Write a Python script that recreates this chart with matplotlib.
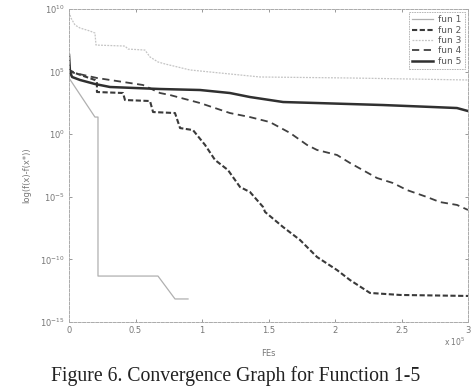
import matplotlib
matplotlib.use("Agg")
import matplotlib.pyplot as plt
import numpy as np

# ---- data (FEs, log10 error) ----
fun1_x = [0, 19500, 21800, 21800, 66900, 79700, 89500]
fun1_y = [4.49, 1.37, 1.37, -11.33, -11.33, -13.16, -13.16]

fun2_x = [0, 4500, 19500, 21000, 21000, 40600, 42100, 60900, 63200, 79700, 83500, 93200,
          102300, 109800, 119500, 128600, 136100, 145900, 147400, 160900, 173700, 186500,
          201500, 211300, 226300, 248900, 300000]
fun2_y = [5.13, 4.89, 4.33, 4.17, 3.37, 3.29, 2.73, 2.65, 1.77, 1.69, 0.49, 0.33,
          -0.86, -2.06, -2.86, -4.22, -4.62, -5.81, -6.21, -7.41, -8.45, -9.81,
          -10.85, -11.65, -12.68, -12.84, -12.92]

fun3_x = [0, 1500, 4500, 8300, 15800, 19500, 20300, 42100, 44400, 57100, 60900, 66900,
          72200, 91000, 121000, 143600, 211300, 300000]
fun3_y = [9.76, 9.28, 8.72, 8.48, 8.24, 8.08, 7.12, 7.04, 6.80, 6.72, 6.17, 5.77,
          5.61, 5.13, 4.81, 4.57, 4.49, 4.33]

fun4_x = [0, 750, 21000, 55600, 68400, 75900, 98500, 121000, 136000, 151000, 166200,
          179000, 186500, 201500, 211300, 231600, 243600, 254100, 269200, 278900, 291700, 300000]
fun4_y = [5.13, 4.97, 4.49, 3.93, 3.29, 3.13, 2.49, 1.69, 1.37, 0.97, 0.10,
          -0.86, -1.26, -1.66, -2.30, -3.50, -3.90, -4.46, -5.02, -5.42, -5.65, -6.05]

fun5_x = [0, 750, 2300, 8300, 19500, 30800, 68400, 98500, 121000, 136000, 161000,
          186500, 236000, 273700, 291700, 300000]
fun5_y = [6.33, 4.97, 4.57, 4.33, 4.01, 3.77, 3.61, 3.53, 3.29, 2.97, 2.57,
          2.49, 2.33, 2.17, 2.09, 1.85]

labels = ["fun 1", "fun 2", "fun 3", "fun 4", "fun 5"]
xtick_vals = [0, 50000, 100000, 150000, 200000, 250000, 300000]
xtick_labels = ["0", "0.5", "1", "1.5", "2", "2.5", "3"]
ytick_exps = [-15, -10, -5, 0, 5, 10]
caption = "Figure 6. Convergence Graph for Function 1-5"

fig = plt.figure(figsize=(4.74, 3.86), dpi=100)
ax = fig.add_axes([69/474, 1-322/386, (468-69)/474, (322-9)/386])

def pw(v):
    return 10.0 ** np.array(v)

ax.plot(fun1_x, pw(fun1_y), color="#b0b0b0", lw=0.9, ls="-", label=labels[0])
ax.plot(fun2_x, pw(fun2_y), color="#3a3a3a", lw=1.5, ls=(0, (2.5, 1.2)), label=labels[1])
ax.plot(fun3_x, pw(fun3_y), color="#c4c4c4", lw=0.9, ls=(0, (1.5, 1)), label=labels[2])
ax.plot(fun4_x, pw(fun4_y), color="#404040", lw=1.3, ls=(0, (4, 2.5)), label=labels[3])
ax.plot(fun5_x, pw(fun5_y), color="#303030", lw=1.8, ls="-", label=labels[4])

ax.set_yscale("log")
ax.set_xlim(0, 300000)
ax.set_ylim(1e-15, 1e10)
ax.set_yticks([10.0 ** e for e in ytick_exps])
ax.set_yticklabels([r"$10^{%d}$" % e for e in ytick_exps])
ax.minorticks_off()
ax.set_xticks(xtick_vals)
ax.set_xticklabels(xtick_labels)
ax.tick_params(direction="in", length=2.5, width=0.6, colors="#888888",
               labelcolor="#777777", labelsize=6, pad=3)
ax.tick_params(top=True, right=True)
for s in ax.spines.values():
    s.set_color("#aaaaaa")
    s.set_linewidth(0.7)
    s.set_linestyle((0, (3, 1.5)))

ax.set_xlabel("FEs", fontsize=6, color="#777777", labelpad=10)
ax.set_ylabel("log(f(x)-f(x*))", fontsize=6, color="#777777", labelpad=4)
ax.yaxis.set_label_coords(-0.095, 0.47)
ax.text(0.995, -0.045, r"x $10^{5}$", transform=ax.transAxes, ha="right", va="top",
        fontsize=5.5, color="#777777")

leg = ax.legend(loc="upper right", fontsize=6.5, frameon=True, fancybox=False,
                handlelength=2.3, labelspacing=0.15, borderpad=0.35,
                borderaxespad=0.35, handletextpad=0.6)
leg.get_frame().set_edgecolor("#999999")
leg.get_frame().set_linewidth(0.6)
leg.get_frame().set_linestyle((0, (2, 1)))
for t in leg.get_texts():
    t.set_color("#555555")

fig.text(236/474, 1-376/386, caption, ha="center", va="center",
         fontsize=14.2, family="Liberation Serif", color="#222222")

fig.savefig("out.png", dpi=100, facecolor="white")
